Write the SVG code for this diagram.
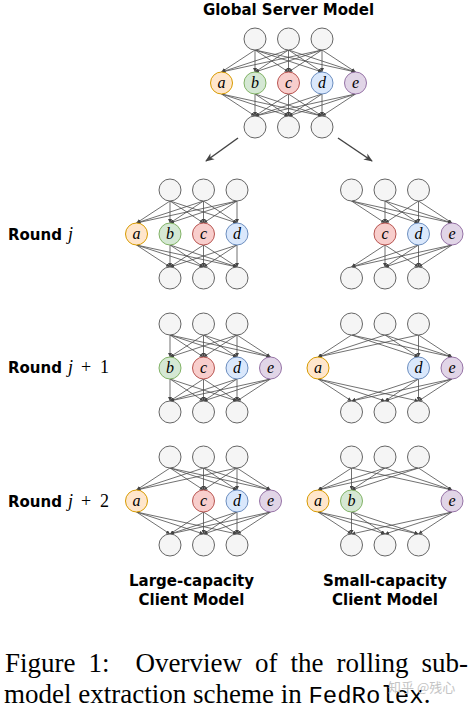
<svg xmlns="http://www.w3.org/2000/svg" width="474" height="710" viewBox="0 0 474 710">
<defs>
<marker id="tip" viewBox="0 0 6 6" refX="6" refY="3" markerWidth="4" markerHeight="4" markerUnits="userSpaceOnUse" orient="auto"><path d="M0,0 L6,3 L0,6 z" fill="#444"/></marker>
<marker id="big" viewBox="0 0 10 10" refX="9" refY="5" markerWidth="9" markerHeight="9" markerUnits="userSpaceOnUse" orient="auto"><path d="M0,1 L10,5 L0,9 L3,5 z" fill="#444"/></marker>
</defs>
<style>
.e{stroke:#4d4d4d;stroke-width:0.8;marker-end:url(#tip)}
.ar{stroke:#444;stroke-width:1.5;fill:none;marker-end:url(#big)}
circle{stroke-width:1}
.g{fill:#f5f5f5;stroke:#666}
.na{fill:#ffe6cc;stroke:#d79b00}
.nb{fill:#d5e8d4;stroke:#82b366}
.nc{fill:#f8cecc;stroke:#b85450}
.nd{fill:#dae8fc;stroke:#6c8ebf}
.ne{fill:#e1d5e7;stroke:#9673a6}
.m{font-family:"Liberation Serif","DejaVu Serif",serif;font-style:italic;font-size:16px;text-anchor:middle;fill:#000}
.h{font-family:"DejaVu Sans","Verdana",sans-serif;font-weight:bold;font-size:15px;fill:#000}
.hc{font-family:"DejaVu Sans","Verdana",sans-serif;font-weight:bold;font-size:15px;fill:#000;text-anchor:middle}
.mi{font-family:"Liberation Serif",serif;font-style:italic;font-weight:normal;font-size:18px}
.mr{font-family:"Liberation Serif",serif;font-weight:normal;font-size:18px}
.cap{font-family:"Liberation Serif","Times New Roman",serif;font-size:27px;fill:#000}
.tt{font-family:"Liberation Mono","Courier New",monospace;font-size:24px}
.wm{font-family:"Noto Sans CJK SC","DejaVu Sans",sans-serif;font-size:13px;fill:#c4c4c4}
</style>

<g id="connectors">
<!-- Global -->
<line class="e" x1="255" y1="50" x2="221.5" y2="72"/><line class="e" x1="255" y1="50" x2="255" y2="72"/><line class="e" x1="255" y1="50" x2="288.5" y2="72"/><line class="e" x1="255" y1="50" x2="322" y2="72"/><line class="e" x1="255" y1="50" x2="355.5" y2="72"/>
<line class="e" x1="288.5" y1="50" x2="221.5" y2="72"/><line class="e" x1="288.5" y1="50" x2="255" y2="72"/><line class="e" x1="288.5" y1="50" x2="288.5" y2="72"/><line class="e" x1="288.5" y1="50" x2="322" y2="72"/><line class="e" x1="288.5" y1="50" x2="355.5" y2="72"/>
<line class="e" x1="322" y1="50" x2="221.5" y2="72"/><line class="e" x1="322" y1="50" x2="255" y2="72"/><line class="e" x1="322" y1="50" x2="288.5" y2="72"/><line class="e" x1="322" y1="50" x2="322" y2="72"/><line class="e" x1="322" y1="50" x2="355.5" y2="72"/>
<line class="e" x1="221.5" y1="94" x2="255" y2="116"/><line class="e" x1="221.5" y1="94" x2="288.5" y2="116"/><line class="e" x1="221.5" y1="94" x2="322" y2="116"/>
<line class="e" x1="255" y1="94" x2="255" y2="116"/><line class="e" x1="255" y1="94" x2="288.5" y2="116"/><line class="e" x1="255" y1="94" x2="322" y2="116"/>
<line class="e" x1="288.5" y1="94" x2="255" y2="116"/><line class="e" x1="288.5" y1="94" x2="288.5" y2="116"/><line class="e" x1="288.5" y1="94" x2="322" y2="116"/>
<line class="e" x1="322" y1="94" x2="255" y2="116"/><line class="e" x1="322" y1="94" x2="288.5" y2="116"/><line class="e" x1="322" y1="94" x2="322" y2="116"/>
<line class="e" x1="355.5" y1="94" x2="255" y2="116"/><line class="e" x1="355.5" y1="94" x2="288.5" y2="116"/><line class="e" x1="355.5" y1="94" x2="322" y2="116"/>
<!-- split arrows -->
<line class="ar" x1="238" y1="138" x2="206" y2="161"/>
<line class="ar" x1="338" y1="138" x2="372" y2="161"/>
<!-- Round j large: a b c d -->
<line class="e" x1="170" y1="201" x2="136.5" y2="223"/><line class="e" x1="170" y1="201" x2="170" y2="223"/><line class="e" x1="170" y1="201" x2="203.5" y2="223"/><line class="e" x1="170" y1="201" x2="237" y2="223"/>
<line class="e" x1="203.5" y1="201" x2="136.5" y2="223"/><line class="e" x1="203.5" y1="201" x2="170" y2="223"/><line class="e" x1="203.5" y1="201" x2="203.5" y2="223"/><line class="e" x1="203.5" y1="201" x2="237" y2="223"/>
<line class="e" x1="237" y1="201" x2="136.5" y2="223"/><line class="e" x1="237" y1="201" x2="170" y2="223"/><line class="e" x1="237" y1="201" x2="203.5" y2="223"/><line class="e" x1="237" y1="201" x2="237" y2="223"/>
<line class="e" x1="136.5" y1="245" x2="170" y2="267"/><line class="e" x1="136.5" y1="245" x2="203.5" y2="267"/><line class="e" x1="136.5" y1="245" x2="237" y2="267"/>
<line class="e" x1="170" y1="245" x2="170" y2="267"/><line class="e" x1="170" y1="245" x2="203.5" y2="267"/><line class="e" x1="170" y1="245" x2="237" y2="267"/>
<line class="e" x1="203.5" y1="245" x2="170" y2="267"/><line class="e" x1="203.5" y1="245" x2="203.5" y2="267"/><line class="e" x1="203.5" y1="245" x2="237" y2="267"/>
<line class="e" x1="237" y1="245" x2="170" y2="267"/><line class="e" x1="237" y1="245" x2="203.5" y2="267"/><line class="e" x1="237" y1="245" x2="237" y2="267"/>
<!-- Round j small: c d e -->
<line class="e" x1="351.5" y1="201" x2="385" y2="223"/><line class="e" x1="351.5" y1="201" x2="418.5" y2="223"/><line class="e" x1="351.5" y1="201" x2="452" y2="223"/>
<line class="e" x1="385" y1="201" x2="385" y2="223"/><line class="e" x1="385" y1="201" x2="418.5" y2="223"/><line class="e" x1="385" y1="201" x2="452" y2="223"/>
<line class="e" x1="418.5" y1="201" x2="385" y2="223"/><line class="e" x1="418.5" y1="201" x2="418.5" y2="223"/><line class="e" x1="418.5" y1="201" x2="452" y2="223"/>
<line class="e" x1="385" y1="245" x2="351.5" y2="267"/><line class="e" x1="385" y1="245" x2="385" y2="267"/><line class="e" x1="385" y1="245" x2="418.5" y2="267"/>
<line class="e" x1="418.5" y1="245" x2="351.5" y2="267"/><line class="e" x1="418.5" y1="245" x2="385" y2="267"/><line class="e" x1="418.5" y1="245" x2="418.5" y2="267"/>
<line class="e" x1="452" y1="245" x2="351.5" y2="267"/><line class="e" x1="452" y1="245" x2="385" y2="267"/><line class="e" x1="452" y1="245" x2="418.5" y2="267"/>
<!-- Round j+1 large: b c d e -->
<line class="e" x1="170" y1="335" x2="170" y2="357"/><line class="e" x1="170" y1="335" x2="203.5" y2="357"/><line class="e" x1="170" y1="335" x2="237" y2="357"/><line class="e" x1="170" y1="335" x2="270.5" y2="357"/>
<line class="e" x1="203.5" y1="335" x2="170" y2="357"/><line class="e" x1="203.5" y1="335" x2="203.5" y2="357"/><line class="e" x1="203.5" y1="335" x2="237" y2="357"/><line class="e" x1="203.5" y1="335" x2="270.5" y2="357"/>
<line class="e" x1="237" y1="335" x2="170" y2="357"/><line class="e" x1="237" y1="335" x2="203.5" y2="357"/><line class="e" x1="237" y1="335" x2="237" y2="357"/><line class="e" x1="237" y1="335" x2="270.5" y2="357"/>
<line class="e" x1="170" y1="379" x2="170" y2="401"/><line class="e" x1="170" y1="379" x2="203.5" y2="401"/><line class="e" x1="170" y1="379" x2="237" y2="401"/>
<line class="e" x1="203.5" y1="379" x2="170" y2="401"/><line class="e" x1="203.5" y1="379" x2="203.5" y2="401"/><line class="e" x1="203.5" y1="379" x2="237" y2="401"/>
<line class="e" x1="237" y1="379" x2="170" y2="401"/><line class="e" x1="237" y1="379" x2="203.5" y2="401"/><line class="e" x1="237" y1="379" x2="237" y2="401"/>
<line class="e" x1="270.5" y1="379" x2="170" y2="401"/><line class="e" x1="270.5" y1="379" x2="203.5" y2="401"/><line class="e" x1="270.5" y1="379" x2="237" y2="401"/>
<!-- Round j+1 small: a d e -->
<line class="e" x1="351.5" y1="335" x2="318" y2="357"/><line class="e" x1="351.5" y1="335" x2="418.5" y2="357"/><line class="e" x1="351.5" y1="335" x2="452" y2="357"/>
<line class="e" x1="385" y1="335" x2="318" y2="357"/><line class="e" x1="385" y1="335" x2="418.5" y2="357"/><line class="e" x1="385" y1="335" x2="452" y2="357"/>
<line class="e" x1="418.5" y1="335" x2="318" y2="357"/><line class="e" x1="418.5" y1="335" x2="418.5" y2="357"/><line class="e" x1="418.5" y1="335" x2="452" y2="357"/>
<line class="e" x1="318" y1="379" x2="351.5" y2="401"/><line class="e" x1="318" y1="379" x2="385" y2="401"/><line class="e" x1="318" y1="379" x2="418.5" y2="401"/>
<line class="e" x1="418.5" y1="379" x2="351.5" y2="401"/><line class="e" x1="418.5" y1="379" x2="385" y2="401"/><line class="e" x1="418.5" y1="379" x2="418.5" y2="401"/>
<line class="e" x1="452" y1="379" x2="351.5" y2="401"/><line class="e" x1="452" y1="379" x2="385" y2="401"/><line class="e" x1="452" y1="379" x2="418.5" y2="401"/>
<!-- Round j+2 large: a c d e -->
<line class="e" x1="170" y1="468" x2="136.5" y2="490"/><line class="e" x1="170" y1="468" x2="203.5" y2="490"/><line class="e" x1="170" y1="468" x2="237" y2="490"/><line class="e" x1="170" y1="468" x2="270.5" y2="490"/>
<line class="e" x1="203.5" y1="468" x2="136.5" y2="490"/><line class="e" x1="203.5" y1="468" x2="203.5" y2="490"/><line class="e" x1="203.5" y1="468" x2="237" y2="490"/><line class="e" x1="203.5" y1="468" x2="270.5" y2="490"/>
<line class="e" x1="237" y1="468" x2="136.5" y2="490"/><line class="e" x1="237" y1="468" x2="203.5" y2="490"/><line class="e" x1="237" y1="468" x2="237" y2="490"/><line class="e" x1="237" y1="468" x2="270.5" y2="490"/>
<line class="e" x1="136.5" y1="512" x2="170" y2="534"/><line class="e" x1="136.5" y1="512" x2="203.5" y2="534"/><line class="e" x1="136.5" y1="512" x2="237" y2="534"/>
<line class="e" x1="203.5" y1="512" x2="170" y2="534"/><line class="e" x1="203.5" y1="512" x2="203.5" y2="534"/><line class="e" x1="203.5" y1="512" x2="237" y2="534"/>
<line class="e" x1="237" y1="512" x2="170" y2="534"/><line class="e" x1="237" y1="512" x2="203.5" y2="534"/><line class="e" x1="237" y1="512" x2="237" y2="534"/>
<line class="e" x1="270.5" y1="512" x2="170" y2="534"/><line class="e" x1="270.5" y1="512" x2="203.5" y2="534"/><line class="e" x1="270.5" y1="512" x2="237" y2="534"/>
<!-- Round j+2 small: a b e -->
<line class="e" x1="351.5" y1="468" x2="318" y2="490"/><line class="e" x1="351.5" y1="468" x2="351.5" y2="490"/><line class="e" x1="351.5" y1="468" x2="452" y2="490"/>
<line class="e" x1="385" y1="468" x2="318" y2="490"/><line class="e" x1="385" y1="468" x2="351.5" y2="490"/><line class="e" x1="385" y1="468" x2="452" y2="490"/>
<line class="e" x1="418.5" y1="468" x2="318" y2="490"/><line class="e" x1="418.5" y1="468" x2="351.5" y2="490"/><line class="e" x1="418.5" y1="468" x2="452" y2="490"/>
<line class="e" x1="318" y1="512" x2="351.5" y2="534"/><line class="e" x1="318" y1="512" x2="385" y2="534"/><line class="e" x1="318" y1="512" x2="418.5" y2="534"/>
<line class="e" x1="351.5" y1="512" x2="351.5" y2="534"/><line class="e" x1="351.5" y1="512" x2="385" y2="534"/><line class="e" x1="351.5" y1="512" x2="418.5" y2="534"/>
<line class="e" x1="452" y1="512" x2="351.5" y2="534"/><line class="e" x1="452" y1="512" x2="385" y2="534"/><line class="e" x1="452" y1="512" x2="418.5" y2="534"/>
</g>

<!-- Global server model -->
<g id="global-top1"><circle class="g" cx="255" cy="39" r="11"/></g>
<g id="global-top2"><circle class="g" cx="288.5" cy="39" r="11"/></g>
<g id="global-top3"><circle class="g" cx="322" cy="39" r="11"/></g>
<g id="global-a"><circle class="na" cx="221.5" cy="83" r="11"/><text class="m" x="221.5" y="88">a</text></g>
<g id="global-b"><circle class="nb" cx="255" cy="83" r="11"/><text class="m" x="255" y="88">b</text></g>
<g id="global-c"><circle class="nc" cx="288.5" cy="83" r="11"/><text class="m" x="288.5" y="88">c</text></g>
<g id="global-d"><circle class="nd" cx="322" cy="83" r="11"/><text class="m" x="322" y="88">d</text></g>
<g id="global-e"><circle class="ne" cx="355.5" cy="83" r="11"/><text class="m" x="355.5" y="88">e</text></g>
<g id="global-bot1"><circle class="g" cx="255" cy="127" r="11"/></g>
<g id="global-bot2"><circle class="g" cx="288.5" cy="127" r="11"/></g>
<g id="global-bot3"><circle class="g" cx="322" cy="127" r="11"/></g>

<!-- Round j -->
<g id="rj-L-top1"><circle class="g" cx="170" cy="190" r="11"/></g>
<g id="rj-L-top2"><circle class="g" cx="203.5" cy="190" r="11"/></g>
<g id="rj-L-top3"><circle class="g" cx="237" cy="190" r="11"/></g>
<g id="rj-L-a"><circle class="na" cx="136.5" cy="234" r="11"/><text class="m" x="136.5" y="239">a</text></g>
<g id="rj-L-b"><circle class="nb" cx="170" cy="234" r="11"/><text class="m" x="170" y="239">b</text></g>
<g id="rj-L-c"><circle class="nc" cx="203.5" cy="234" r="11"/><text class="m" x="203.5" y="239">c</text></g>
<g id="rj-L-d"><circle class="nd" cx="237" cy="234" r="11"/><text class="m" x="237" y="239">d</text></g>
<g id="rj-L-bot1"><circle class="g" cx="170" cy="278" r="11"/></g>
<g id="rj-L-bot2"><circle class="g" cx="203.5" cy="278" r="11"/></g>
<g id="rj-L-bot3"><circle class="g" cx="237" cy="278" r="11"/></g>
<g id="rj-S-top1"><circle class="g" cx="351.5" cy="190" r="11"/></g>
<g id="rj-S-top2"><circle class="g" cx="385" cy="190" r="11"/></g>
<g id="rj-S-top3"><circle class="g" cx="418.5" cy="190" r="11"/></g>
<g id="rj-S-c"><circle class="nc" cx="385" cy="234" r="11"/><text class="m" x="385" y="239">c</text></g>
<g id="rj-S-d"><circle class="nd" cx="418.5" cy="234" r="11"/><text class="m" x="418.5" y="239">d</text></g>
<g id="rj-S-e"><circle class="ne" cx="452" cy="234" r="11"/><text class="m" x="452" y="239">e</text></g>
<g id="rj-S-bot1"><circle class="g" cx="351.5" cy="278" r="11"/></g>
<g id="rj-S-bot2"><circle class="g" cx="385" cy="278" r="11"/></g>
<g id="rj-S-bot3"><circle class="g" cx="418.5" cy="278" r="11"/></g>

<!-- Round j+1 -->
<g id="rj1-L-top1"><circle class="g" cx="170" cy="324" r="11"/></g>
<g id="rj1-L-top2"><circle class="g" cx="203.5" cy="324" r="11"/></g>
<g id="rj1-L-top3"><circle class="g" cx="237" cy="324" r="11"/></g>
<g id="rj1-L-b"><circle class="nb" cx="170" cy="368" r="11"/><text class="m" x="170" y="373">b</text></g>
<g id="rj1-L-c"><circle class="nc" cx="203.5" cy="368" r="11"/><text class="m" x="203.5" y="373">c</text></g>
<g id="rj1-L-d"><circle class="nd" cx="237" cy="368" r="11"/><text class="m" x="237" y="373">d</text></g>
<g id="rj1-L-e"><circle class="ne" cx="270.5" cy="368" r="11"/><text class="m" x="270.5" y="373">e</text></g>
<g id="rj1-L-bot1"><circle class="g" cx="170" cy="412" r="11"/></g>
<g id="rj1-L-bot2"><circle class="g" cx="203.5" cy="412" r="11"/></g>
<g id="rj1-L-bot3"><circle class="g" cx="237" cy="412" r="11"/></g>
<g id="rj1-S-top1"><circle class="g" cx="351.5" cy="324" r="11"/></g>
<g id="rj1-S-top2"><circle class="g" cx="385" cy="324" r="11"/></g>
<g id="rj1-S-top3"><circle class="g" cx="418.5" cy="324" r="11"/></g>
<g id="rj1-S-a"><circle class="na" cx="318" cy="368" r="11"/><text class="m" x="318" y="373">a</text></g>
<g id="rj1-S-d"><circle class="nd" cx="418.5" cy="368" r="11"/><text class="m" x="418.5" y="373">d</text></g>
<g id="rj1-S-e"><circle class="ne" cx="452" cy="368" r="11"/><text class="m" x="452" y="373">e</text></g>
<g id="rj1-S-bot1"><circle class="g" cx="351.5" cy="412" r="11"/></g>
<g id="rj1-S-bot2"><circle class="g" cx="385" cy="412" r="11"/></g>
<g id="rj1-S-bot3"><circle class="g" cx="418.5" cy="412" r="11"/></g>

<!-- Round j+2 -->
<g id="rj2-L-top1"><circle class="g" cx="170" cy="457" r="11"/></g>
<g id="rj2-L-top2"><circle class="g" cx="203.5" cy="457" r="11"/></g>
<g id="rj2-L-top3"><circle class="g" cx="237" cy="457" r="11"/></g>
<g id="rj2-L-a"><circle class="na" cx="136.5" cy="501" r="11"/><text class="m" x="136.5" y="506">a</text></g>
<g id="rj2-L-c"><circle class="nc" cx="203.5" cy="501" r="11"/><text class="m" x="203.5" y="506">c</text></g>
<g id="rj2-L-d"><circle class="nd" cx="237" cy="501" r="11"/><text class="m" x="237" y="506">d</text></g>
<g id="rj2-L-e"><circle class="ne" cx="270.5" cy="501" r="11"/><text class="m" x="270.5" y="506">e</text></g>
<g id="rj2-L-bot1"><circle class="g" cx="170" cy="545" r="11"/></g>
<g id="rj2-L-bot2"><circle class="g" cx="203.5" cy="545" r="11"/></g>
<g id="rj2-L-bot3"><circle class="g" cx="237" cy="545" r="11"/></g>
<g id="rj2-S-top1"><circle class="g" cx="351.5" cy="457" r="11"/></g>
<g id="rj2-S-top2"><circle class="g" cx="385" cy="457" r="11"/></g>
<g id="rj2-S-top3"><circle class="g" cx="418.5" cy="457" r="11"/></g>
<g id="rj2-S-a"><circle class="na" cx="318" cy="501" r="11"/><text class="m" x="318" y="506">a</text></g>
<g id="rj2-S-b"><circle class="nb" cx="351.5" cy="501" r="11"/><text class="m" x="351.5" y="506">b</text></g>
<g id="rj2-S-e"><circle class="ne" cx="452" cy="501" r="11"/><text class="m" x="452" y="506">e</text></g>
<g id="rj2-S-bot1"><circle class="g" cx="351.5" cy="545" r="11"/></g>
<g id="rj2-S-bot2"><circle class="g" cx="385" cy="545" r="11"/></g>
<g id="rj2-S-bot3"><circle class="g" cx="418.5" cy="545" r="11"/></g>

<!-- Labels -->
<g id="labels">
<text class="hc" x="288.5" y="15">Global Server Model</text>
<text class="h" x="8" y="240">Round <tspan class="mi" x="68">j</tspan></text>
<text class="h" x="8" y="373">Round <tspan class="mi" x="68">j</tspan><tspan class="mr" x="81">+</tspan><tspan class="mr" x="100">1</tspan></text>
<text class="h" x="8" y="507">Round <tspan class="mi" x="68">j</tspan><tspan class="mr" x="81">+</tspan><tspan class="mr" x="100">2</tspan></text>
<text class="hc" x="191.5" y="586">Large-capacity</text>
<text class="hc" x="191.5" y="605">Client Model</text>
<text class="hc" x="385" y="586">Small-capacity</text>
<text class="hc" x="385" y="605">Client Model</text>
</g>

<g id="caption">
<text class="cap" y="672"><tspan x="5">Figure</tspan><tspan x="88.5">1:</tspan><tspan x="135.5">Overview</tspan><tspan x="255">of</tspan><tspan x="290.5">the</tspan><tspan x="336.5">rolling</tspan><tspan x="421.5">sub-</tspan></text>
<text class="cap" x="4" y="703">model extraction scheme in <tspan class="tt">FedRolex</tspan>.</text>
<text class="wm" x="388" y="692">知乎 @残心</text>
</g>
</svg>
